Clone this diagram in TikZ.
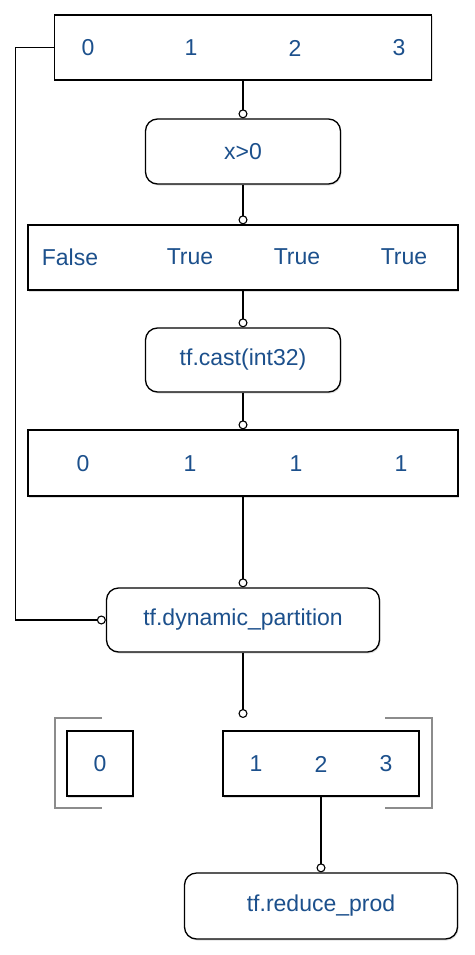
\documentclass[tikz,border=0pt]{standalone}
\usepackage{fontspec}
\setmainfont{Liberation Sans}
\usetikzlibrary{arrows.meta}
\usetikzlibrary{shadows}
\definecolor{valblue}{RGB}{28,80,140}
\definecolor{brackgray}{RGB}{140,140,140}

\begin{document}
\begin{tikzpicture}[x=1pt, y=-1pt, >={Circle[open,length=9pt]},
  cell/.style={draw, line width=1.3pt, fill=white, inner sep=0pt,
    text=valblue, font=\fontsize{23}{27}\selectfont,
    drop shadow={shadow xshift=1pt, shadow yshift=-1.5pt, opacity=0.25}},
  op/.style={cell, rounded corners=12pt},
  val/.style={text=valblue, font=\fontsize{23}{27}\selectfont},
  link/.style={line width=1.1pt},
  bracket/.style={line width=1.3pt, draw=brackgray}]
\useasboundingbox (0,0) rectangle (474,955);
% input tensor
\node[cell, minimum width=377pt, minimum height=65pt] (input) at (243,47.5) {};
\foreach \v/\x in {0/88,1/191,2/295,3/399}
  \node[val] (in\v) at (\x,48) {\v};
\node[op, minimum width=195pt, minimum height=65pt] (cond) at (243,151.5) {x>0};
% boolean mask
\node[cell, minimum width=430pt, minimum height=65pt] (mask) at (243,257.5) {};
\foreach \t/\x [count=\i] in {False/70,True/190,True/297,True/404}
  \node[val] (mask\i) at (\x,257) {\t};
\node[op, minimum width=195pt, minimum height=64pt] (cast) at (243,360) {tf.cast(int32)};
% partitions
\node[cell, minimum width=430pt, minimum height=66pt] (part) at (243,463) {};
\foreach \v/\x [count=\i] in {0/83,1/190,1/296,1/401}
  \node[val] (part\i) at (\x,464) {\v};
\node[op, minimum width=273pt, minimum height=64pt] (dynpart) at (243,620) {tf.dynamic\_partition};
\coordinate (split) at (243,718);
% outputs
\node[cell, minimum width=66pt, minimum height=65pt] (zero) at (100,763.5) {0};
\node[cell, minimum width=196pt, minimum height=65pt] (rest) at (321,763.5) {};
\foreach \v/\x in {1/256,2/321,3/386}
  \node[val] (rest\v) at (\x,764) {\v};
\node[op, minimum width=273pt, minimum height=66pt] (prod) at (321,906) {tf.reduce\_prod};

\draw[link,->] (input) -- (cond);
\draw[link,->] (cond) -- (mask);
\draw[link,->] (mask) -- (cast);
\draw[link,->] (cast) -- (part);
\draw[link,->] (part) -- (dynpart);
\draw[link,->] (input.west) -- ++(-38,0) |- (dynpart.west);
\draw[link,->] (dynpart) -- (split);
\draw[link,->] (rest) -- (prod);

\draw[bracket] (102,718) -| (55,808) -- (102,808);
\draw[bracket] (385,718) -| (432,808) -- (385,808);
\end{tikzpicture}
\end{document}
